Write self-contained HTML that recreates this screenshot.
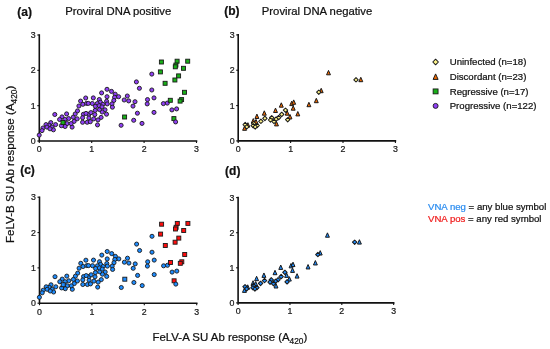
<!DOCTYPE html>
<html><head><meta charset="utf-8"><title>Figure</title><style>
html,body{margin:0;padding:0;background:#fff;}
body{width:550px;height:349px;overflow:hidden;}
svg{display:block;will-change:transform;filter:blur(0.3px);}
text{font-family:"Liberation Sans", sans-serif;fill:#111;stroke:#111;stroke-width:0.22px;}
.tk{font-size:8.8px;fill:#222;}
.lab{font-size:12px;font-weight:bold;}
.tt{font-size:11.3px;}
.sub{font-size:8.3px;}
.lg{font-size:9.62px;}
</style></head>
<body>
<svg width="550" height="349" viewBox="0 0 550 349">
<rect width="550" height="349" fill="#fff"/>
<path d="M39.30 34.21V141.00H197.30" fill="none" stroke="#111" stroke-width="1.6"/>
<path d="M37.30 141.00H39.30" stroke="#111" stroke-width="1.1"/>
<path d="M39.30 141.00V143.00" stroke="#111" stroke-width="1.1"/>
<text x="35.70" y="144.00" text-anchor="end" class="tk">0</text>
<text x="39.30" y="152.30" text-anchor="middle" class="tk">0</text>
<path d="M37.30 105.67H39.30" stroke="#111" stroke-width="1.1"/>
<path d="M91.70 141.00V143.00" stroke="#111" stroke-width="1.1"/>
<text x="35.70" y="108.67" text-anchor="end" class="tk">1</text>
<text x="91.70" y="152.30" text-anchor="middle" class="tk">1</text>
<path d="M37.30 70.34H39.30" stroke="#111" stroke-width="1.1"/>
<path d="M144.10 141.00V143.00" stroke="#111" stroke-width="1.1"/>
<text x="35.70" y="73.34" text-anchor="end" class="tk">2</text>
<text x="144.10" y="152.30" text-anchor="middle" class="tk">2</text>
<path d="M37.30 35.01H39.30" stroke="#111" stroke-width="1.1"/>
<path d="M196.50 141.00V143.00" stroke="#111" stroke-width="1.1"/>
<text x="35.70" y="38.01" text-anchor="end" class="tk">3</text>
<text x="196.50" y="152.30" text-anchor="middle" class="tk">3</text>
<path d="M238.20 34.11V140.90H396.20" fill="none" stroke="#111" stroke-width="1.6"/>
<path d="M236.20 140.90H238.20" stroke="#111" stroke-width="1.1"/>
<path d="M238.20 140.90V142.90" stroke="#111" stroke-width="1.1"/>
<text x="234.60" y="143.90" text-anchor="end" class="tk">0</text>
<text x="238.20" y="152.20" text-anchor="middle" class="tk">0</text>
<path d="M236.20 105.57H238.20" stroke="#111" stroke-width="1.1"/>
<path d="M290.60 140.90V142.90" stroke="#111" stroke-width="1.1"/>
<text x="234.60" y="108.57" text-anchor="end" class="tk">1</text>
<text x="290.60" y="152.20" text-anchor="middle" class="tk">1</text>
<path d="M236.20 70.24H238.20" stroke="#111" stroke-width="1.1"/>
<path d="M343.00 140.90V142.90" stroke="#111" stroke-width="1.1"/>
<text x="234.60" y="73.24" text-anchor="end" class="tk">2</text>
<text x="343.00" y="152.20" text-anchor="middle" class="tk">2</text>
<path d="M236.20 34.91H238.20" stroke="#111" stroke-width="1.1"/>
<path d="M395.40 140.90V142.90" stroke="#111" stroke-width="1.1"/>
<text x="234.60" y="37.91" text-anchor="end" class="tk">3</text>
<text x="395.40" y="152.20" text-anchor="middle" class="tk">3</text>
<path d="M39.50 196.41V303.20H197.50" fill="none" stroke="#111" stroke-width="1.6"/>
<path d="M37.50 303.20H39.50" stroke="#111" stroke-width="1.1"/>
<path d="M39.50 303.20V305.20" stroke="#111" stroke-width="1.1"/>
<text x="35.90" y="306.20" text-anchor="end" class="tk">0</text>
<text x="39.50" y="314.50" text-anchor="middle" class="tk">0</text>
<path d="M37.50 267.87H39.50" stroke="#111" stroke-width="1.1"/>
<path d="M91.90 303.20V305.20" stroke="#111" stroke-width="1.1"/>
<text x="35.90" y="270.87" text-anchor="end" class="tk">1</text>
<text x="91.90" y="314.50" text-anchor="middle" class="tk">1</text>
<path d="M37.50 232.54H39.50" stroke="#111" stroke-width="1.1"/>
<path d="M144.30 303.20V305.20" stroke="#111" stroke-width="1.1"/>
<text x="35.90" y="235.54" text-anchor="end" class="tk">2</text>
<text x="144.30" y="314.50" text-anchor="middle" class="tk">2</text>
<path d="M37.50 197.21H39.50" stroke="#111" stroke-width="1.1"/>
<path d="M196.70 303.20V305.20" stroke="#111" stroke-width="1.1"/>
<text x="35.90" y="200.21" text-anchor="end" class="tk">3</text>
<text x="196.70" y="314.50" text-anchor="middle" class="tk">3</text>
<path d="M238.10 196.80V302.90H394.45" fill="none" stroke="#111" stroke-width="1.6"/>
<path d="M236.10 302.90H238.10" stroke="#111" stroke-width="1.1"/>
<path d="M238.10 302.90V304.90" stroke="#111" stroke-width="1.1"/>
<text x="234.50" y="305.90" text-anchor="end" class="tk">0</text>
<text x="238.10" y="314.20" text-anchor="middle" class="tk">0</text>
<path d="M236.10 267.80H238.10" stroke="#111" stroke-width="1.1"/>
<path d="M289.95 302.90V304.90" stroke="#111" stroke-width="1.1"/>
<text x="234.50" y="270.80" text-anchor="end" class="tk">1</text>
<text x="289.95" y="314.20" text-anchor="middle" class="tk">1</text>
<path d="M236.10 232.70H238.10" stroke="#111" stroke-width="1.1"/>
<path d="M341.80 302.90V304.90" stroke="#111" stroke-width="1.1"/>
<text x="234.50" y="235.70" text-anchor="end" class="tk">2</text>
<text x="341.80" y="314.20" text-anchor="middle" class="tk">2</text>
<path d="M236.10 197.60H238.10" stroke="#111" stroke-width="1.1"/>
<path d="M393.65 302.90V304.90" stroke="#111" stroke-width="1.1"/>
<text x="234.50" y="200.60" text-anchor="end" class="tk">3</text>
<text x="393.65" y="314.20" text-anchor="middle" class="tk">3</text>
<g stroke="#1a1a1a" stroke-width="0.9">
<circle cx="151.80" cy="74.10" r="2.05" fill="#9040f5"/>
<circle cx="151.80" cy="90.00" r="2.05" fill="#9040f5"/>
<circle cx="154.00" cy="97.90" r="2.05" fill="#9040f5"/>
<circle cx="147.50" cy="99.60" r="2.05" fill="#9040f5"/>
<circle cx="147.20" cy="103.90" r="2.05" fill="#9040f5"/>
<circle cx="163.40" cy="103.60" r="2.05" fill="#9040f5"/>
<circle cx="167.30" cy="103.10" r="2.05" fill="#9040f5"/>
<circle cx="171.90" cy="109.90" r="2.05" fill="#9040f5"/>
<circle cx="176.60" cy="108.90" r="2.05" fill="#9040f5"/>
<circle cx="154.00" cy="112.40" r="2.05" fill="#9040f5"/>
<circle cx="136.40" cy="81.90" r="2.05" fill="#9040f5"/>
<circle cx="139.40" cy="88.30" r="2.05" fill="#9040f5"/>
<circle cx="107.00" cy="89.30" r="2.05" fill="#9040f5"/>
<circle cx="111.50" cy="91.40" r="2.05" fill="#9040f5"/>
<circle cx="101.60" cy="92.90" r="2.05" fill="#9040f5"/>
<circle cx="115.20" cy="94.20" r="2.05" fill="#9040f5"/>
<circle cx="118.60" cy="96.70" r="2.05" fill="#9040f5"/>
<circle cx="107.00" cy="96.70" r="2.05" fill="#9040f5"/>
<circle cx="93.30" cy="97.90" r="2.05" fill="#9040f5"/>
<circle cx="114.60" cy="97.30" r="2.05" fill="#9040f5"/>
<circle cx="113.80" cy="100.50" r="2.05" fill="#9040f5"/>
<circle cx="99.30" cy="99.50" r="2.05" fill="#9040f5"/>
<circle cx="100.40" cy="102.20" r="2.05" fill="#9040f5"/>
<circle cx="106.60" cy="101.30" r="2.05" fill="#9040f5"/>
<circle cx="92.30" cy="103.50" r="2.05" fill="#9040f5"/>
<circle cx="97.20" cy="103.60" r="2.05" fill="#9040f5"/>
<circle cx="107.20" cy="103.90" r="2.05" fill="#9040f5"/>
<circle cx="112.00" cy="103.90" r="2.05" fill="#9040f5"/>
<circle cx="127.30" cy="96.00" r="2.05" fill="#9040f5"/>
<circle cx="124.20" cy="100.00" r="2.05" fill="#9040f5"/>
<circle cx="128.70" cy="100.90" r="2.05" fill="#9040f5"/>
<circle cx="135.00" cy="101.70" r="2.05" fill="#9040f5"/>
<circle cx="133.00" cy="106.10" r="2.05" fill="#9040f5"/>
<circle cx="112.40" cy="107.20" r="2.05" fill="#9040f5"/>
<circle cx="137.40" cy="113.20" r="2.05" fill="#9040f5"/>
<circle cx="133.70" cy="120.30" r="2.05" fill="#9040f5"/>
<circle cx="142.00" cy="123.40" r="2.05" fill="#9040f5"/>
<circle cx="121.10" cy="125.30" r="2.05" fill="#9040f5"/>
<circle cx="106.50" cy="114.20" r="2.05" fill="#9040f5"/>
<circle cx="101.10" cy="117.40" r="2.05" fill="#9040f5"/>
<circle cx="98.00" cy="119.90" r="2.05" fill="#9040f5"/>
<circle cx="97.50" cy="124.90" r="2.05" fill="#9040f5"/>
<circle cx="105.00" cy="109.80" r="2.05" fill="#9040f5"/>
<circle cx="102.20" cy="112.00" r="2.05" fill="#9040f5"/>
<circle cx="99.50" cy="109.50" r="2.05" fill="#9040f5"/>
<circle cx="95.20" cy="110.40" r="2.05" fill="#9040f5"/>
<circle cx="83.40" cy="114.30" r="2.05" fill="#9040f5"/>
<circle cx="88.80" cy="114.40" r="2.05" fill="#9040f5"/>
<circle cx="90.90" cy="112.60" r="2.05" fill="#9040f5"/>
<circle cx="94.80" cy="114.60" r="2.05" fill="#9040f5"/>
<circle cx="82.60" cy="117.70" r="2.05" fill="#9040f5"/>
<circle cx="88.90" cy="118.00" r="2.05" fill="#9040f5"/>
<circle cx="93.70" cy="118.90" r="2.05" fill="#9040f5"/>
<circle cx="82.60" cy="122.30" r="2.05" fill="#9040f5"/>
<circle cx="87.20" cy="122.30" r="2.05" fill="#9040f5"/>
<circle cx="90.30" cy="121.70" r="2.05" fill="#9040f5"/>
<circle cx="86.00" cy="113.40" r="2.05" fill="#9040f5"/>
<circle cx="80.60" cy="101.10" r="2.05" fill="#9040f5"/>
<circle cx="82.90" cy="104.30" r="2.05" fill="#9040f5"/>
<circle cx="86.60" cy="103.40" r="2.05" fill="#9040f5"/>
<circle cx="78.90" cy="106.00" r="2.05" fill="#9040f5"/>
<circle cx="77.50" cy="110.90" r="2.05" fill="#9040f5"/>
<circle cx="75.20" cy="114.00" r="2.05" fill="#9040f5"/>
<circle cx="66.60" cy="113.90" r="2.05" fill="#9040f5"/>
<circle cx="62.00" cy="116.90" r="2.05" fill="#9040f5"/>
<circle cx="68.60" cy="118.60" r="2.05" fill="#9040f5"/>
<circle cx="73.20" cy="117.20" r="2.05" fill="#9040f5"/>
<circle cx="77.20" cy="118.80" r="2.05" fill="#9040f5"/>
<circle cx="85.70" cy="98.00" r="2.05" fill="#9040f5"/>
<circle cx="54.80" cy="114.50" r="2.05" fill="#9040f5"/>
<circle cx="59.60" cy="119.50" r="2.05" fill="#9040f5"/>
<circle cx="74.10" cy="121.40" r="2.05" fill="#9040f5"/>
<circle cx="67.10" cy="123.60" r="2.05" fill="#9040f5"/>
<circle cx="72.10" cy="127.10" r="2.05" fill="#9040f5"/>
<circle cx="65.10" cy="126.50" r="2.05" fill="#9040f5"/>
<circle cx="55.60" cy="124.60" r="2.05" fill="#9040f5"/>
<circle cx="50.80" cy="122.60" r="2.05" fill="#9040f5"/>
<circle cx="49.00" cy="125.10" r="2.05" fill="#9040f5"/>
<circle cx="46.00" cy="124.60" r="2.05" fill="#9040f5"/>
<circle cx="43.00" cy="128.00" r="2.05" fill="#9040f5"/>
<circle cx="47.00" cy="127.10" r="2.05" fill="#9040f5"/>
<circle cx="52.00" cy="127.10" r="2.05" fill="#9040f5"/>
<circle cx="53.40" cy="129.80" r="2.05" fill="#9040f5"/>
<circle cx="50.00" cy="128.80" r="2.05" fill="#9040f5"/>
<circle cx="42.00" cy="130.60" r="2.05" fill="#9040f5"/>
<circle cx="39.20" cy="135.10" r="2.05" fill="#9040f5"/>
<circle cx="102.90" cy="104.30" r="2.05" fill="#9040f5"/>
<circle cx="95.40" cy="106.30" r="2.05" fill="#9040f5"/>
<circle cx="99.20" cy="105.70" r="2.05" fill="#9040f5"/>
<circle cx="102.00" cy="106.90" r="2.05" fill="#9040f5"/>
<circle cx="88.30" cy="103.40" r="2.05" fill="#9040f5"/>
<circle cx="71.10" cy="123.60" r="2.05" fill="#9040f5"/>
<circle cx="61.40" cy="125.70" r="2.05" fill="#9040f5"/>
<circle cx="64.90" cy="119.50" r="2.05" fill="#9040f5"/>
<rect x="159.40" y="60.00" width="4.00" height="4.00" fill="#18b018"/>
<rect x="175.10" y="59.20" width="4.00" height="4.00" fill="#18b018"/>
<rect x="185.70" y="59.20" width="4.00" height="4.00" fill="#18b018"/>
<rect x="173.90" y="63.10" width="4.00" height="4.00" fill="#18b018"/>
<rect x="173.30" y="64.80" width="4.00" height="4.00" fill="#18b018"/>
<rect x="181.50" y="66.30" width="4.00" height="4.00" fill="#18b018"/>
<rect x="158.40" y="69.90" width="4.00" height="4.00" fill="#18b018"/>
<rect x="176.60" y="73.90" width="4.00" height="4.00" fill="#18b018"/>
<rect x="172.90" y="78.00" width="4.00" height="4.00" fill="#18b018"/>
<rect x="163.10" y="81.30" width="4.00" height="4.00" fill="#18b018"/>
<rect x="182.50" y="90.30" width="4.00" height="4.00" fill="#18b018"/>
<rect x="168.30" y="98.30" width="4.00" height="4.00" fill="#18b018"/>
<rect x="179.60" y="97.60" width="4.00" height="4.00" fill="#18b018"/>
<rect x="178.10" y="99.10" width="4.00" height="4.00" fill="#18b018"/>
<rect x="171.90" y="116.60" width="4.00" height="4.00" fill="#18b018"/>
<rect x="122.60" y="115.00" width="4.00" height="4.00" fill="#18b018"/>
<rect x="61.00" y="120.50" width="4.00" height="4.00" fill="#18b018"/>
<circle cx="175.60" cy="121.90" r="2.05" fill="#9040f5"/>
<path d="M328.50 70.40L330.45 74.80L326.55 74.80Z" fill="#f06800" stroke-width="1.0" stroke-linejoin="round"/>
<path d="M360.80 77.30L362.75 81.70L358.85 81.70Z" fill="#f06800" stroke-width="1.0" stroke-linejoin="round"/>
<path d="M321.20 88.30L323.15 92.70L319.25 92.70Z" fill="#f06800" stroke-width="1.0" stroke-linejoin="round"/>
<path d="M316.30 98.30L318.25 102.70L314.35 102.70Z" fill="#f06800" stroke-width="1.0" stroke-linejoin="round"/>
<path d="M308.90 102.30L310.85 106.70L306.95 106.70Z" fill="#f06800" stroke-width="1.0" stroke-linejoin="round"/>
<path d="M297.80 111.50L299.75 115.90L295.85 115.90Z" fill="#f06800" stroke-width="1.0" stroke-linejoin="round"/>
<path d="M291.70 101.20L293.65 105.60L289.75 105.60Z" fill="#f06800" stroke-width="1.0" stroke-linejoin="round"/>
<path d="M293.70 99.90L295.65 104.30L291.75 104.30Z" fill="#f06800" stroke-width="1.0" stroke-linejoin="round"/>
<path d="M293.20 105.80L295.15 110.20L291.25 110.20Z" fill="#f06800" stroke-width="1.0" stroke-linejoin="round"/>
<path d="M287.20 110.80L289.15 115.20L285.25 115.20Z" fill="#f06800" stroke-width="1.0" stroke-linejoin="round"/>
<path d="M290.00 114.50L291.95 118.90L288.05 118.90Z" fill="#f06800" stroke-width="1.0" stroke-linejoin="round"/>
<path d="M281.30 102.80L283.25 107.20L279.35 107.20Z" fill="#f06800" stroke-width="1.0" stroke-linejoin="round"/>
<path d="M275.50 108.10L277.45 112.50L273.55 112.50Z" fill="#f06800" stroke-width="1.0" stroke-linejoin="round"/>
<path d="M264.30 110.80L266.25 115.20L262.35 115.20Z" fill="#f06800" stroke-width="1.0" stroke-linejoin="round"/>
<path d="M256.90 114.10L258.85 118.50L254.95 118.50Z" fill="#f06800" stroke-width="1.0" stroke-linejoin="round"/>
<path d="M253.30 118.60L255.25 123.00L251.35 123.00Z" fill="#f06800" stroke-width="1.0" stroke-linejoin="round"/>
<path d="M256.00 119.40L257.95 123.80L254.05 123.80Z" fill="#f06800" stroke-width="1.0" stroke-linejoin="round"/>
<path d="M247.90 122.70L249.85 127.10L245.95 127.10Z" fill="#f06800" stroke-width="1.0" stroke-linejoin="round"/>
<path d="M244.60 125.90L246.55 130.30L242.65 130.30Z" fill="#f06800" stroke-width="1.0" stroke-linejoin="round"/>
<path d="M276.50 121.50L278.45 125.90L274.55 125.90Z" fill="#f06800" stroke-width="1.0" stroke-linejoin="round"/>
<path d="M356.00 77.60L358.20 79.80L356.00 82.00L353.80 79.80Z" fill="#fdf38a" stroke-width="1.05" stroke-linejoin="round"/>
<path d="M318.80 90.00L321.00 92.20L318.80 94.40L316.60 92.20Z" fill="#fdf38a" stroke-width="1.05" stroke-linejoin="round"/>
<path d="M285.50 108.00L287.70 110.20L285.50 112.40L283.30 110.20Z" fill="#fdf38a" stroke-width="1.05" stroke-linejoin="round"/>
<path d="M281.70 112.20L283.90 114.40L281.70 116.60L279.50 114.40Z" fill="#fdf38a" stroke-width="1.05" stroke-linejoin="round"/>
<path d="M278.60 115.40L280.80 117.60L278.60 119.80L276.40 117.60Z" fill="#fdf38a" stroke-width="1.05" stroke-linejoin="round"/>
<path d="M276.10 116.90L278.30 119.10L276.10 121.30L273.90 119.10Z" fill="#fdf38a" stroke-width="1.05" stroke-linejoin="round"/>
<path d="M287.70 117.50L289.90 119.70L287.70 121.90L285.50 119.70Z" fill="#fdf38a" stroke-width="1.05" stroke-linejoin="round"/>
<path d="M274.00 119.30L276.20 121.50L274.00 123.70L271.80 121.50Z" fill="#fdf38a" stroke-width="1.05" stroke-linejoin="round"/>
<path d="M271.70 115.50L273.90 117.70L271.70 119.90L269.50 117.70Z" fill="#fdf38a" stroke-width="1.05" stroke-linejoin="round"/>
<path d="M270.50 117.80L272.70 120.00L270.50 122.20L268.30 120.00Z" fill="#fdf38a" stroke-width="1.05" stroke-linejoin="round"/>
<path d="M264.90 116.20L267.10 118.40L264.90 120.60L262.70 118.40Z" fill="#fdf38a" stroke-width="1.05" stroke-linejoin="round"/>
<path d="M260.90 119.10L263.10 121.30L260.90 123.50L258.70 121.30Z" fill="#fdf38a" stroke-width="1.05" stroke-linejoin="round"/>
<path d="M253.70 121.30L255.90 123.50L253.70 125.70L251.50 123.50Z" fill="#fdf38a" stroke-width="1.05" stroke-linejoin="round"/>
<path d="M253.20 123.50L255.40 125.70L253.20 127.90L251.00 125.70Z" fill="#fdf38a" stroke-width="1.05" stroke-linejoin="round"/>
<path d="M257.20 123.30L259.40 125.50L257.20 127.70L255.00 125.50Z" fill="#fdf38a" stroke-width="1.05" stroke-linejoin="round"/>
<path d="M255.20 124.70L257.40 126.90L255.20 129.10L253.00 126.90Z" fill="#fdf38a" stroke-width="1.05" stroke-linejoin="round"/>
<path d="M245.20 122.40L247.40 124.60L245.20 126.80L243.00 124.60Z" fill="#fdf38a" stroke-width="1.05" stroke-linejoin="round"/>
<path d="M246.80 124.60L249.00 126.80L246.80 129.00L244.60 126.80Z" fill="#fdf38a" stroke-width="1.05" stroke-linejoin="round"/>
<circle cx="152.00" cy="236.30" r="2.05" fill="#1e8cff"/>
<circle cx="152.00" cy="252.20" r="2.05" fill="#1e8cff"/>
<circle cx="154.20" cy="260.10" r="2.05" fill="#1e8cff"/>
<circle cx="147.70" cy="261.80" r="2.05" fill="#1e8cff"/>
<circle cx="147.40" cy="266.10" r="2.05" fill="#1e8cff"/>
<circle cx="163.60" cy="265.80" r="2.05" fill="#1e8cff"/>
<circle cx="167.50" cy="265.30" r="2.05" fill="#1e8cff"/>
<circle cx="172.10" cy="272.10" r="2.05" fill="#1e8cff"/>
<circle cx="176.80" cy="271.10" r="2.05" fill="#1e8cff"/>
<circle cx="154.20" cy="274.60" r="2.05" fill="#1e8cff"/>
<circle cx="136.60" cy="244.10" r="2.05" fill="#1e8cff"/>
<circle cx="139.60" cy="250.50" r="2.05" fill="#1e8cff"/>
<circle cx="107.20" cy="251.50" r="2.05" fill="#1e8cff"/>
<circle cx="111.70" cy="253.60" r="2.05" fill="#1e8cff"/>
<circle cx="101.80" cy="255.10" r="2.05" fill="#1e8cff"/>
<circle cx="115.40" cy="256.40" r="2.05" fill="#1e8cff"/>
<circle cx="118.80" cy="258.90" r="2.05" fill="#1e8cff"/>
<circle cx="107.20" cy="258.90" r="2.05" fill="#1e8cff"/>
<circle cx="93.50" cy="260.10" r="2.05" fill="#1e8cff"/>
<circle cx="114.80" cy="259.50" r="2.05" fill="#1e8cff"/>
<circle cx="114.00" cy="262.70" r="2.05" fill="#1e8cff"/>
<circle cx="99.50" cy="261.70" r="2.05" fill="#1e8cff"/>
<circle cx="100.60" cy="264.40" r="2.05" fill="#1e8cff"/>
<circle cx="106.80" cy="263.50" r="2.05" fill="#1e8cff"/>
<circle cx="92.50" cy="265.70" r="2.05" fill="#1e8cff"/>
<circle cx="97.40" cy="265.80" r="2.05" fill="#1e8cff"/>
<circle cx="107.40" cy="266.10" r="2.05" fill="#1e8cff"/>
<circle cx="112.20" cy="266.10" r="2.05" fill="#1e8cff"/>
<circle cx="127.50" cy="258.20" r="2.05" fill="#1e8cff"/>
<circle cx="124.40" cy="262.20" r="2.05" fill="#1e8cff"/>
<circle cx="128.90" cy="263.10" r="2.05" fill="#1e8cff"/>
<circle cx="135.20" cy="263.90" r="2.05" fill="#1e8cff"/>
<circle cx="133.20" cy="268.30" r="2.05" fill="#1e8cff"/>
<circle cx="112.60" cy="269.40" r="2.05" fill="#1e8cff"/>
<circle cx="137.60" cy="275.40" r="2.05" fill="#1e8cff"/>
<circle cx="133.90" cy="282.50" r="2.05" fill="#1e8cff"/>
<circle cx="142.20" cy="285.60" r="2.05" fill="#1e8cff"/>
<circle cx="121.30" cy="287.50" r="2.05" fill="#1e8cff"/>
<circle cx="106.70" cy="276.40" r="2.05" fill="#1e8cff"/>
<circle cx="101.30" cy="279.60" r="2.05" fill="#1e8cff"/>
<circle cx="98.20" cy="282.10" r="2.05" fill="#1e8cff"/>
<circle cx="97.70" cy="287.10" r="2.05" fill="#1e8cff"/>
<circle cx="105.20" cy="272.00" r="2.05" fill="#1e8cff"/>
<circle cx="102.40" cy="274.20" r="2.05" fill="#1e8cff"/>
<circle cx="99.70" cy="271.70" r="2.05" fill="#1e8cff"/>
<circle cx="95.40" cy="272.60" r="2.05" fill="#1e8cff"/>
<circle cx="83.60" cy="276.50" r="2.05" fill="#1e8cff"/>
<circle cx="89.00" cy="276.60" r="2.05" fill="#1e8cff"/>
<circle cx="91.10" cy="274.80" r="2.05" fill="#1e8cff"/>
<circle cx="95.00" cy="276.80" r="2.05" fill="#1e8cff"/>
<circle cx="82.80" cy="279.90" r="2.05" fill="#1e8cff"/>
<circle cx="89.10" cy="280.20" r="2.05" fill="#1e8cff"/>
<circle cx="93.90" cy="281.10" r="2.05" fill="#1e8cff"/>
<circle cx="82.80" cy="284.50" r="2.05" fill="#1e8cff"/>
<circle cx="87.40" cy="284.50" r="2.05" fill="#1e8cff"/>
<circle cx="90.50" cy="283.90" r="2.05" fill="#1e8cff"/>
<circle cx="86.20" cy="275.60" r="2.05" fill="#1e8cff"/>
<circle cx="80.80" cy="263.30" r="2.05" fill="#1e8cff"/>
<circle cx="83.10" cy="266.50" r="2.05" fill="#1e8cff"/>
<circle cx="86.80" cy="265.60" r="2.05" fill="#1e8cff"/>
<circle cx="79.10" cy="268.20" r="2.05" fill="#1e8cff"/>
<circle cx="77.70" cy="273.10" r="2.05" fill="#1e8cff"/>
<circle cx="75.40" cy="276.20" r="2.05" fill="#1e8cff"/>
<circle cx="66.80" cy="276.10" r="2.05" fill="#1e8cff"/>
<circle cx="62.20" cy="279.10" r="2.05" fill="#1e8cff"/>
<circle cx="68.80" cy="280.80" r="2.05" fill="#1e8cff"/>
<circle cx="73.40" cy="279.40" r="2.05" fill="#1e8cff"/>
<circle cx="77.40" cy="281.00" r="2.05" fill="#1e8cff"/>
<circle cx="85.90" cy="260.20" r="2.05" fill="#1e8cff"/>
<circle cx="55.00" cy="276.70" r="2.05" fill="#1e8cff"/>
<circle cx="59.80" cy="281.70" r="2.05" fill="#1e8cff"/>
<circle cx="74.30" cy="283.60" r="2.05" fill="#1e8cff"/>
<circle cx="67.30" cy="285.80" r="2.05" fill="#1e8cff"/>
<circle cx="72.30" cy="289.30" r="2.05" fill="#1e8cff"/>
<circle cx="65.30" cy="288.70" r="2.05" fill="#1e8cff"/>
<circle cx="55.80" cy="286.80" r="2.05" fill="#1e8cff"/>
<circle cx="51.00" cy="284.80" r="2.05" fill="#1e8cff"/>
<circle cx="49.20" cy="287.30" r="2.05" fill="#1e8cff"/>
<circle cx="46.20" cy="286.80" r="2.05" fill="#1e8cff"/>
<circle cx="43.20" cy="290.20" r="2.05" fill="#1e8cff"/>
<circle cx="47.20" cy="289.30" r="2.05" fill="#1e8cff"/>
<circle cx="52.20" cy="289.30" r="2.05" fill="#1e8cff"/>
<circle cx="53.60" cy="292.00" r="2.05" fill="#1e8cff"/>
<circle cx="50.20" cy="291.00" r="2.05" fill="#1e8cff"/>
<circle cx="42.20" cy="292.80" r="2.05" fill="#1e8cff"/>
<circle cx="39.40" cy="297.30" r="2.05" fill="#1e8cff"/>
<circle cx="103.10" cy="266.50" r="2.05" fill="#1e8cff"/>
<circle cx="95.60" cy="268.50" r="2.05" fill="#1e8cff"/>
<circle cx="99.40" cy="267.90" r="2.05" fill="#1e8cff"/>
<circle cx="102.20" cy="269.10" r="2.05" fill="#1e8cff"/>
<circle cx="88.50" cy="265.60" r="2.05" fill="#1e8cff"/>
<circle cx="71.30" cy="285.80" r="2.05" fill="#1e8cff"/>
<circle cx="61.60" cy="287.90" r="2.05" fill="#1e8cff"/>
<circle cx="65.10" cy="281.70" r="2.05" fill="#1e8cff"/>
<rect x="159.60" y="222.20" width="4.00" height="4.00" fill="#ff0d0d"/>
<rect x="175.30" y="221.40" width="4.00" height="4.00" fill="#ff0d0d"/>
<rect x="185.90" y="221.40" width="4.00" height="4.00" fill="#ff0d0d"/>
<rect x="174.10" y="225.30" width="4.00" height="4.00" fill="#ff0d0d"/>
<rect x="173.50" y="227.00" width="4.00" height="4.00" fill="#ff0d0d"/>
<rect x="181.70" y="228.50" width="4.00" height="4.00" fill="#ff0d0d"/>
<rect x="158.60" y="232.10" width="4.00" height="4.00" fill="#ff0d0d"/>
<rect x="176.80" y="236.10" width="4.00" height="4.00" fill="#ff0d0d"/>
<rect x="173.10" y="240.20" width="4.00" height="4.00" fill="#ff0d0d"/>
<rect x="163.30" y="243.50" width="4.00" height="4.00" fill="#ff0d0d"/>
<rect x="182.70" y="252.50" width="4.00" height="4.00" fill="#ff0d0d"/>
<rect x="168.50" y="260.50" width="4.00" height="4.00" fill="#ff0d0d"/>
<rect x="179.80" y="259.80" width="4.00" height="4.00" fill="#ff0d0d"/>
<rect x="178.30" y="261.30" width="4.00" height="4.00" fill="#ff0d0d"/>
<rect x="172.10" y="278.80" width="4.00" height="4.00" fill="#ff0d0d"/>
<rect x="122.80" y="277.20" width="4.00" height="4.00" fill="#1e8cff"/>
<rect x="61.20" y="282.70" width="4.00" height="4.00" fill="#1e8cff"/>
<circle cx="175.80" cy="284.10" r="2.05" fill="#1e8cff"/>
<path d="M327.45 232.84L329.40 237.24L325.50 237.24Z" fill="#1e8cff" stroke-width="1.0" stroke-linejoin="round"/>
<path d="M359.41 239.70L361.36 244.10L357.46 244.10Z" fill="#1e8cff" stroke-width="1.0" stroke-linejoin="round"/>
<path d="M320.23 250.63L322.18 255.03L318.28 255.03Z" fill="#1e8cff" stroke-width="1.0" stroke-linejoin="round"/>
<path d="M315.38 260.56L317.33 264.96L313.43 264.96Z" fill="#1e8cff" stroke-width="1.0" stroke-linejoin="round"/>
<path d="M308.06 264.54L310.01 268.94L306.11 268.94Z" fill="#1e8cff" stroke-width="1.0" stroke-linejoin="round"/>
<path d="M297.07 273.68L299.02 278.08L295.12 278.08Z" fill="#1e8cff" stroke-width="1.0" stroke-linejoin="round"/>
<path d="M291.04 263.44L292.99 267.84L289.09 267.84Z" fill="#1e8cff" stroke-width="1.0" stroke-linejoin="round"/>
<path d="M293.02 262.15L294.97 266.55L291.07 266.55Z" fill="#1e8cff" stroke-width="1.0" stroke-linejoin="round"/>
<path d="M292.52 268.01L294.47 272.41L290.57 272.41Z" fill="#1e8cff" stroke-width="1.0" stroke-linejoin="round"/>
<path d="M286.59 272.98L288.54 277.38L284.64 277.38Z" fill="#1e8cff" stroke-width="1.0" stroke-linejoin="round"/>
<path d="M289.36 276.66L291.31 281.06L287.41 281.06Z" fill="#1e8cff" stroke-width="1.0" stroke-linejoin="round"/>
<path d="M280.75 265.03L282.70 269.43L278.80 269.43Z" fill="#1e8cff" stroke-width="1.0" stroke-linejoin="round"/>
<path d="M275.01 270.30L276.96 274.70L273.06 274.70Z" fill="#1e8cff" stroke-width="1.0" stroke-linejoin="round"/>
<path d="M263.93 272.98L265.88 277.38L261.98 277.38Z" fill="#1e8cff" stroke-width="1.0" stroke-linejoin="round"/>
<path d="M256.60 276.26L258.55 280.66L254.65 280.66Z" fill="#1e8cff" stroke-width="1.0" stroke-linejoin="round"/>
<path d="M253.04 280.73L254.99 285.13L251.09 285.13Z" fill="#1e8cff" stroke-width="1.0" stroke-linejoin="round"/>
<path d="M255.71 281.52L257.66 285.92L253.76 285.92Z" fill="#1e8cff" stroke-width="1.0" stroke-linejoin="round"/>
<path d="M247.70 284.80L249.65 289.20L245.75 289.20Z" fill="#1e8cff" stroke-width="1.0" stroke-linejoin="round"/>
<path d="M244.43 287.98L246.38 292.38L242.48 292.38Z" fill="#1e8cff" stroke-width="1.0" stroke-linejoin="round"/>
<path d="M276.00 283.61L277.95 288.01L274.05 288.01Z" fill="#1e8cff" stroke-width="1.0" stroke-linejoin="round"/>
<path d="M354.66 240.00L356.86 242.20L354.66 244.40L352.46 242.20Z" fill="#1e8cff" stroke-width="1.05" stroke-linejoin="round"/>
<path d="M317.85 252.32L320.05 254.52L317.85 256.72L315.65 254.52Z" fill="#1e8cff" stroke-width="1.05" stroke-linejoin="round"/>
<path d="M284.90 270.20L287.10 272.40L284.90 274.60L282.70 272.40Z" fill="#1e8cff" stroke-width="1.05" stroke-linejoin="round"/>
<path d="M281.14 274.37L283.34 276.57L281.14 278.77L278.94 276.57Z" fill="#1e8cff" stroke-width="1.05" stroke-linejoin="round"/>
<path d="M278.08 277.55L280.28 279.75L278.08 281.95L275.88 279.75Z" fill="#1e8cff" stroke-width="1.05" stroke-linejoin="round"/>
<path d="M275.60 279.04L277.80 281.24L275.60 283.44L273.40 281.24Z" fill="#1e8cff" stroke-width="1.05" stroke-linejoin="round"/>
<path d="M287.08 279.64L289.28 281.84L287.08 284.04L284.88 281.84Z" fill="#1e8cff" stroke-width="1.05" stroke-linejoin="round"/>
<path d="M273.52 281.43L275.72 283.63L273.52 285.83L271.32 283.63Z" fill="#1e8cff" stroke-width="1.05" stroke-linejoin="round"/>
<path d="M271.25 277.65L273.45 279.85L271.25 282.05L269.05 279.85Z" fill="#1e8cff" stroke-width="1.05" stroke-linejoin="round"/>
<path d="M270.06 279.94L272.26 282.14L270.06 284.34L267.86 282.14Z" fill="#1e8cff" stroke-width="1.05" stroke-linejoin="round"/>
<path d="M264.52 278.35L266.72 280.55L264.52 282.75L262.32 280.55Z" fill="#1e8cff" stroke-width="1.05" stroke-linejoin="round"/>
<path d="M260.56 281.23L262.76 283.43L260.56 285.63L258.36 283.43Z" fill="#1e8cff" stroke-width="1.05" stroke-linejoin="round"/>
<path d="M253.44 283.41L255.64 285.61L253.44 287.81L251.24 285.61Z" fill="#1e8cff" stroke-width="1.05" stroke-linejoin="round"/>
<path d="M252.94 285.60L255.14 287.80L252.94 290.00L250.74 287.80Z" fill="#1e8cff" stroke-width="1.05" stroke-linejoin="round"/>
<path d="M256.90 285.40L259.10 287.60L256.90 289.80L254.70 287.60Z" fill="#1e8cff" stroke-width="1.05" stroke-linejoin="round"/>
<path d="M254.92 286.79L257.12 288.99L254.92 291.19L252.72 288.99Z" fill="#1e8cff" stroke-width="1.05" stroke-linejoin="round"/>
<path d="M245.03 284.51L247.23 286.71L245.03 288.91L242.83 286.71Z" fill="#1e8cff" stroke-width="1.05" stroke-linejoin="round"/>
<path d="M246.61 286.69L248.81 288.89L246.61 291.09L244.41 288.89Z" fill="#1e8cff" stroke-width="1.05" stroke-linejoin="round"/>
</g>
<text x="17.3" y="15.5" class="lab">(a)</text>
<text x="224.2" y="14.9" class="lab">(b)</text>
<text x="20.2" y="174.4" class="lab">(c)</text>
<text x="225.1" y="175.0" class="lab">(d)</text>
<text x="65.2" y="14.9" class="tt">Proviral DNA positive</text>
<text x="261.8" y="14.9" class="tt">Proviral DNA negative</text>
<text x="152.5" y="340.7" class="tt" style="font-size:11.45px">FeLV-A SU Ab response (A<tspan class="sub" dy="3.7">420</tspan><tspan dy="-3.7">)</tspan></text>
<text transform="translate(13.8,243.0) rotate(-90)" x="0" y="0" class="tt" style="font-size:11.6px">FeLV-B SU Ab response (A<tspan class="sub" dy="3.2">420</tspan><tspan dy="-3.2">)</tspan></text>
<g stroke="#1a1a1a" stroke-width="0.9">
<path d="M435.60 59.20L438.40 62.00L435.60 64.80L432.80 62.00Z" fill="#fdf38a" stroke-width="1.05" stroke-linejoin="round"/>
<path d="M435.60 73.90L438.10 79.40L433.10 79.40Z" fill="#f06800" stroke-width="1.0" stroke-linejoin="round"/>
<rect x="433.15" y="88.95" width="4.90" height="4.90" fill="#18b018"/>
<circle cx="435.60" cy="105.90" r="2.50" fill="#9040f5"/>
</g>
<text x="449.7" y="65.30" class="lg">Uninfected (n=18)</text>
<text x="449.7" y="80.20" class="lg">Discordant (n=23)</text>
<text x="449.7" y="94.70" class="lg">Regressive (n=17)</text>
<text x="449.7" y="109.20" class="lg">Progressive (n=122)</text>
<text x="428.0" y="209.9" class="lg"><tspan fill="#2a8cf0" stroke="#2a8cf0">VNA neg</tspan> = any blue symbol</text>
<text x="428.0" y="221.9" class="lg"><tspan fill="#f01c1c" stroke="#f01c1c">VNA pos</tspan> = any red symbol</text>
</svg>
</body></html>
